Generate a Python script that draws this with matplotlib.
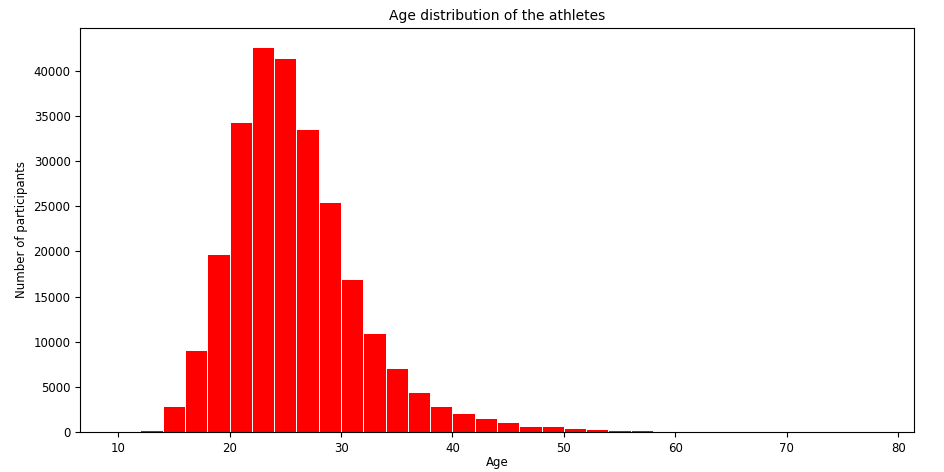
import numpy as np
import matplotlib
matplotlib.use("Agg")
import matplotlib.pyplot as plt

# Histogram bin edges (ages) and counts per 2-year bin
bin_edges = list(range(10, 80, 2))  # 10, 12, ..., 78
counts = [1, 200, 2910, 9090, 19670, 34400, 42650, 41390, 33590, 25480,
          16900, 11000, 7030, 4420, 2870, 2060, 1500, 1060, 660, 660,
          440, 300, 200, 180, 60, 40, 30, 20, 15, 10, 8, 5, 4, 3]

fig = plt.figure(figsize=(9.45, 4.72), dpi=100)
ax = fig.add_axes([0.085, 0.085, 0.882, 0.856])

centers = np.array(bin_edges[:-1]) + 1
ax.hist(centers, bins=bin_edges, weights=counts, color="red", edgecolor="white", linewidth=0.7)

ax.set_title("Age distribution of the athletes", fontsize=10)
ax.set_xlabel("Age", fontsize=8.5, labelpad=1)
ax.set_ylabel("Number of participants", fontsize=8.5)
ax.tick_params(labelsize=8.5)

fig.savefig("out.png", dpi=100)
